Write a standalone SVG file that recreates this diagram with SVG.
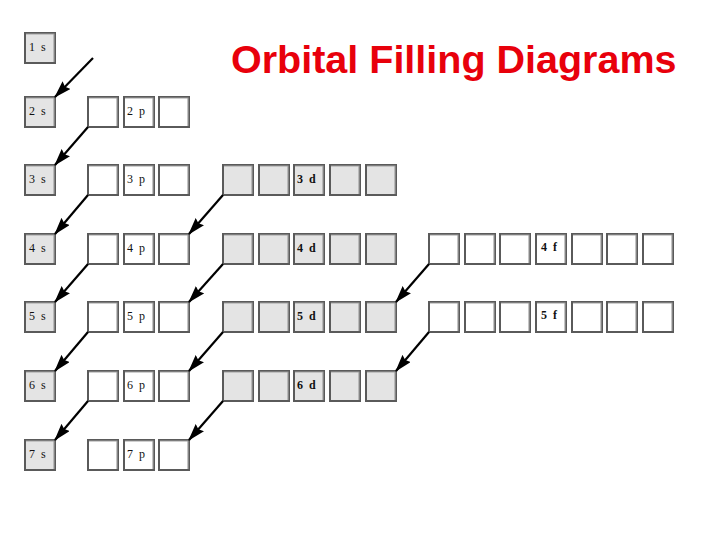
<svg xmlns="http://www.w3.org/2000/svg" width="720" height="540" viewBox="0 0 720 540">
<style>
.b{stroke:#5a5a5a;stroke-width:2}
.g{fill:#e4e4e4}
.w{fill:#ffffff}
.t{fill:none;stroke:#a0a0a0;stroke-width:1.2}
.l{font-family:"Liberation Serif",serif;font-size:12px;letter-spacing:1.5px;fill:#111}
.a{stroke:#000;stroke-width:2.2;fill:none;marker-end:url(#ah)}
.title{font-family:"Liberation Sans",Arial,sans-serif;font-weight:bold;font-size:39.5px;fill:#e8000b}
</style>
<defs>
<marker id="ah" markerWidth="8" markerHeight="5" refX="7.5" refY="2.5" orient="auto" markerUnits="strokeWidth">
<path d="M0,0 L8,2.5 L0,5 L1,2.5 Z" fill="#000"/>
</marker>
<g id="sb"><rect class="b g" x="0" y="0" width="30" height="30"/><path class="t" d="M1,1 H29 V29"/></g>
<g id="wb"><rect class="b w" x="0" y="0" width="30" height="30"/><path class="t" d="M1,1 H29 V29"/></g>
</defs>
<rect width="720" height="540" fill="#fff"/>
<text class="title" x="231" y="73">Orbital Filling Diagrams</text>

<g id="n1s"><use href="#sb" x="25" y="33"/><text class="l" x="29" y="51">1 s</text></g>

<g id="n2s"><use href="#sb" x="25" y="97"/><text class="l" x="29" y="115">2 s</text></g>
<g id="n2p"><use href="#wb" x="88" y="97"/><use href="#wb" x="124" y="97"/><use href="#wb" x="159" y="97"/><text class="l" x="127" y="115">2 p</text></g>

<g id="n3s"><use href="#sb" x="25" y="165"/><text class="l" x="29" y="183">3 s</text></g>
<g id="n3p"><use href="#wb" x="88" y="165"/><use href="#wb" x="124" y="165"/><use href="#wb" x="159" y="165"/><text class="l" x="127" y="183">3 p</text></g>
<g id="n3d"><use href="#sb" x="223" y="165"/><use href="#sb" x="259" y="165"/><use href="#sb" x="294" y="165"/><use href="#sb" x="330" y="165"/><use href="#sb" x="366" y="165"/><text class="l" x="297" y="183" font-weight="bold">3 d</text></g>

<g id="n4s"><use href="#sb" x="25" y="234"/><text class="l" x="29" y="252">4 s</text></g>
<g id="n4p"><use href="#wb" x="88" y="234"/><use href="#wb" x="124" y="234"/><use href="#wb" x="159" y="234"/><text class="l" x="127" y="252">4 p</text></g>
<g id="n4d"><use href="#sb" x="223" y="234"/><use href="#sb" x="259" y="234"/><use href="#sb" x="294" y="234"/><use href="#sb" x="330" y="234"/><use href="#sb" x="366" y="234"/><text class="l" x="297" y="252" font-weight="bold">4 d</text></g>
<g id="n4f"><use href="#wb" x="429" y="234"/><use href="#wb" x="465" y="234"/><use href="#wb" x="500" y="234"/><use href="#wb" x="536" y="234"/><use href="#wb" x="572" y="234"/><use href="#wb" x="607" y="234"/><use href="#wb" x="643" y="234"/><text class="l" x="541" y="251" font-size="11" font-weight="bold" letter-spacing="0.5">4 f</text></g>

<g id="n5s"><use href="#sb" x="25" y="302"/><text class="l" x="29" y="320">5 s</text></g>
<g id="n5p"><use href="#wb" x="88" y="302"/><use href="#wb" x="124" y="302"/><use href="#wb" x="159" y="302"/><text class="l" x="127" y="320">5 p</text></g>
<g id="n5d"><use href="#sb" x="223" y="302"/><use href="#sb" x="259" y="302"/><use href="#sb" x="294" y="302"/><use href="#sb" x="330" y="302"/><use href="#sb" x="366" y="302"/><text class="l" x="297" y="320" font-weight="bold">5 d</text></g>
<g id="n5f"><use href="#wb" x="429" y="302"/><use href="#wb" x="465" y="302"/><use href="#wb" x="500" y="302"/><use href="#wb" x="536" y="302"/><use href="#wb" x="572" y="302"/><use href="#wb" x="607" y="302"/><use href="#wb" x="643" y="302"/><text class="l" x="541" y="319" font-size="11" font-weight="bold" letter-spacing="0.5">5 f</text></g>

<g id="n6s"><use href="#sb" x="25" y="371"/><text class="l" x="29" y="389">6 s</text></g>
<g id="n6p"><use href="#wb" x="88" y="371"/><use href="#wb" x="124" y="371"/><use href="#wb" x="159" y="371"/><text class="l" x="127" y="389">6 p</text></g>
<g id="n6d"><use href="#sb" x="223" y="371"/><use href="#sb" x="259" y="371"/><use href="#sb" x="294" y="371"/><use href="#sb" x="330" y="371"/><use href="#sb" x="366" y="371"/><text class="l" x="297" y="389" font-weight="bold">6 d</text></g>

<g id="n7s"><use href="#sb" x="25" y="440"/><text class="l" x="29" y="458">7 s</text></g>
<g id="n7p"><use href="#wb" x="88" y="440"/><use href="#wb" x="124" y="440"/><use href="#wb" x="159" y="440"/><text class="l" x="127" y="458">7 p</text></g>

<g id="connectors">
<line class="a" x1="93" y1="58" x2="55" y2="97"/>
<line class="a" x1="88" y1="127" x2="55" y2="165"/>
<line class="a" x1="88" y1="195" x2="55" y2="234"/>
<line class="a" x1="223" y1="195" x2="189" y2="234"/>
<line class="a" x1="88" y1="264" x2="55" y2="302"/>
<line class="a" x1="223" y1="264" x2="189" y2="302"/>
<line class="a" x1="429" y1="264" x2="396" y2="302"/>
<line class="a" x1="88" y1="332" x2="55" y2="371"/>
<line class="a" x1="223" y1="332" x2="189" y2="371"/>
<line class="a" x1="429" y1="332" x2="396" y2="371"/>
<line class="a" x1="88" y1="401" x2="55" y2="440"/>
<line class="a" x1="223" y1="401" x2="189" y2="440"/>
</g>
</svg>
